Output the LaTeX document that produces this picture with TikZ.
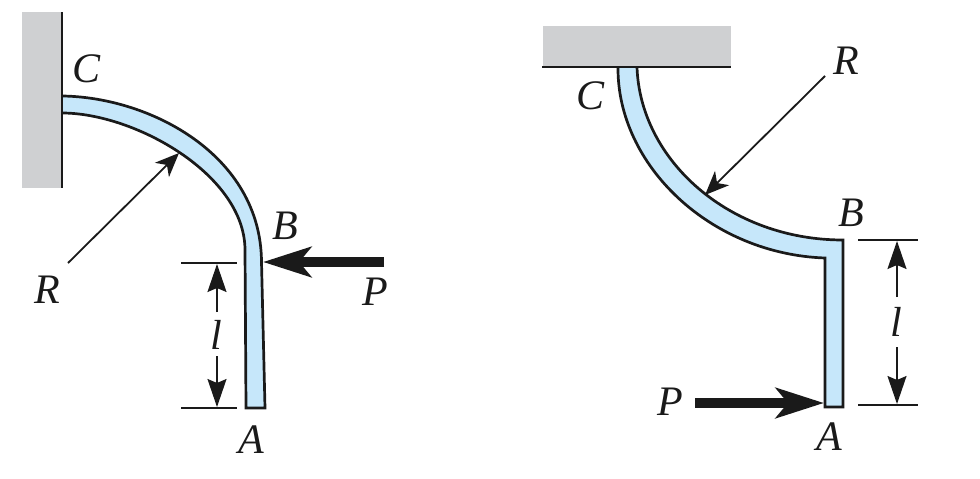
\documentclass[tikz,border=0pt]{standalone}
\usepackage{fontspec}
\setmainfont{Liberation Serif}
\usetikzlibrary{arrows.meta}
\definecolor{beamblue}{HTML}{C6E7FA}
\definecolor{wallgray}{HTML}{CFD0D2}
\definecolor{ink}{HTML}{1A1A1A}
\tikzset{
  lab/.style={font=\fontsize{42}{42}\selectfont\itshape,text=ink,inner sep=0pt,anchor=center},
  beam/.style={fill=beamblue,draw=ink,line width=2.7pt,line join=miter},
  wall/.style={fill=wallgray,draw=none},
  edgeline/.style={draw=ink,line width=2.8pt},
  thin line/.style={draw=ink,line width=1.9pt},
  radarrow/.style={draw=ink,line width=1.8pt,-{Stealth[length=24pt,width=20pt,inset=7pt]}},
  dimarrow/.style={draw=ink,line width=1.8pt,-{Stealth[length=28pt,width=19pt,inset=4pt]}},
  force/.style={draw=ink,line width=10pt,-{Stealth[length=48pt,width=30pt,inset=12pt]}}
}
\begin{document}
\begin{tikzpicture}[x=1pt,y=-1pt]
\useasboundingbox (0,0) rectangle (980,479);
% left figure
\fill[wall] (22,12) rectangle (62,188);
\path[beam] (62,96) .. controls (150,97) and (261,155) .. (261.5,262) -- (265,408) -- (246,408) -- (245,250)
  .. controls (245,175) and (135,113) .. (62,113);
\coordinate (lwt) at (62,12); \coordinate (lwb) at (62,188);
\draw[edgeline] (lwt) -- (lwb);
\node[lab] (lC) at (87,69) {C};
\node[lab] (lB) at (285,226) {B};
\node[lab] (lP) at (375,292) {P};
\node[lab] (lA) at (251,440) {A};
\node[lab] (lR) at (47,290) {R};
\node[lab] (ll) at (216,335) {l};
\coordinate (lRs) at (68,263); \coordinate (lRe) at (179,153);
\draw[radarrow] (lRs) -- (lRe);
\coordinate (ld1a) at (181,263); \coordinate (ld1b) at (237,263);
\coordinate (ld2a) at (181,408); \coordinate (ld2b) at (237,408);
\draw[thin line] (ld1a) -- (ld1b);
\draw[thin line] (ld2a) -- (ld2b);
\coordinate (lu1) at (217,312); \coordinate (lu2) at (217,264);
\coordinate (ld1) at (217,356); \coordinate (ld2) at (217,407);
\draw[dimarrow] (lu1) -- (lu2);
\draw[dimarrow] (ld1) -- (ld2);
\coordinate (lFs) at (384,262); \coordinate (lFe) at (263,262);
\draw[force] (lFs) -- (lFe);
% right figure
\fill[wall] (543,26) rectangle (731,66);
\path[beam] (637,67) .. controls (640,160) and (729,240) .. (843,240) -- (843,407) -- (825,407) -- (825,258)
  .. controls (710,254) and (617,165) .. (618,67);
\coordinate (rwl) at (542,67); \coordinate (rwr) at (731,67);
\draw[edgeline] (rwl) -- (rwr);
\node[lab] (rC) at (590,96) {C};
\node[lab] (rR) at (846,61) {R};
\node[lab] (rB) at (851,213) {B};
\node[lab] (rP) at (670,402) {P};
\node[lab] (rA) at (829,437) {A};
\node[lab] (rl) at (896,322) {l};
\coordinate (rRs) at (825,76); \coordinate (rRe) at (705,195);
\draw[radarrow] (rRs) -- (rRe);
\coordinate (rd1a) at (858,240); \coordinate (rd1b) at (918,240);
\coordinate (rd2a) at (858,405); \coordinate (rd2b) at (918,405);
\draw[thin line] (rd1a) -- (rd1b);
\draw[thin line] (rd2a) -- (rd2b);
\coordinate (ru1) at (897,297); \coordinate (ru2) at (897,241);
\coordinate (rdn1) at (897,347); \coordinate (rdn2) at (897,404);
\draw[dimarrow] (ru1) -- (ru2);
\draw[dimarrow] (rdn1) -- (rdn2);
\coordinate (rFs) at (695,403); \coordinate (rFe) at (824,403);
\draw[force] (rFs) -- (rFe);
\end{tikzpicture}
\end{document}
